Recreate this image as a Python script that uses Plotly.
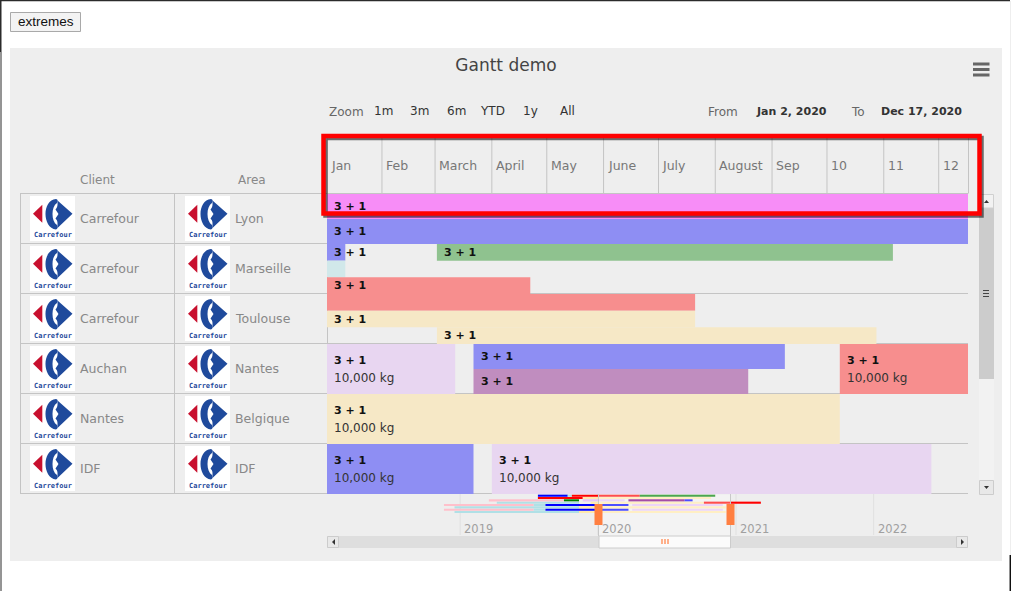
import pandas as pd
import plotly.graph_objs as go

W, H = 1011, 591

clients = ['Carrefour', 'Carrefour', 'Carrefour', 'Auchan', 'Nantes', 'IDF']
areas = ['Lyon', 'Marseille', 'Toulouse', 'Nantes', 'Belgique', 'IDF']

# main gantt tasks
task_row = [0, 0, 1, 1, 1, 1, 2, 2, 2, 3, 3, 3, 3, 4, 5, 5]
task_lane = [0, 1, 0, 0, 1, 2, 0, 1, 2, 0, 0, 1, 0, 0, 0, 0]
task_lanes = [2, 2, 3, 3, 3, 3, 3, 3, 3, 1, 2, 2, 1, 1, 1, 1]
task_kind = ['magenta', 'blue', 'blue', 'green', 'teal', 'red', 'red', 'cream', 'cream',
             'lilac', 'blue', 'purple', 'red', 'cream', 'blue', 'lilac']
task_start = ['2020-01-02', '2020-01-02', '2020-01-02', '2020-03-02', '2020-01-02', '2020-01-02',
              '2020-01-02', '2020-01-02', '2020-03-02', '2020-01-02', '2020-03-22', '2020-03-22',
              '2020-10-08', '2020-01-02', '2020-01-02', '2020-04-01']
task_end = ['2020-12-17', '2020-12-17', '2020-01-12', '2020-11-06', '2020-01-12', '2020-04-22',
            '2020-07-21', '2020-07-21', '2020-10-28', '2020-03-12', '2020-09-08', '2020-08-19',
            '2021-03-08', '2020-10-08', '2020-03-22', '2020-11-27']
task_count = ['3 + 1', '3 + 1', '3 + 1', '3 + 1', '', '3 + 1', '', '3 + 1', '3 + 1',
              '3 + 1', '3 + 1', '3 + 1', '3 + 1', '3 + 1', '3 + 1', '3 + 1']
task_weight = ['', '', '', '', '', '', '', '', '',
               '10,000 kg', '', '', '10,000 kg', '10,000 kg', '10,000 kg', '10,000 kg']

# navigator (whole data range)
nav_lane = [0, 0, 0, 0, 1, 1, 2, 2, 2, 2, 2, 3, 3, 3, 3, 4, 4, 4, 4, 5, 5, 6, 6, 6, 6, 7, 7]
nav_kind = ['blue', 'teal', 'red', 'green', 'red', 'cream', 'pink', 'green', 'lilac', 'purple', 'blue',
            'teal', 'cream', 'red', 'red', 'pink', 'teal', 'blue', 'lilac', 'teal', 'cream',
            'pink', 'teal', 'blue', 'lilac', 'teal', 'cream']
nav_start = ['2019-07-26', '2019-10-13', '2019-10-24', '2020-04-21', '2019-07-26', '2019-11-22',
             '2019-03-18', '2019-10-03', '2019-11-22', '2020-03-22', '2020-08-18',
             '2019-04-08', '2019-12-13', '2020-10-08', '2020-12-17',
             '2018-11-19', '2019-07-15', '2019-08-15', '2020-04-01',
             '2018-12-17', '2019-11-12',
             '2018-11-19', '2019-07-15', '2019-08-15', '2020-04-01',
             '2018-12-17', '2019-11-12']
nav_end = ['2019-10-13', '2019-10-24', '2020-04-21', '2020-11-07', '2019-11-22', '2020-10-27',
           '2019-10-03', '2019-11-12', '2020-03-12', '2020-08-18', '2020-09-08',
           '2019-11-12', '2020-10-08', '2020-12-17', '2021-03-08',
           '2019-07-15', '2019-08-15', '2020-03-22', '2020-11-27',
           '2019-11-12', '2020-12-05',
           '2019-07-15', '2019-08-15', '2020-03-22', '2020-11-27',
           '2019-11-12', '2020-12-05']

month_labels = ['Jan', 'Feb', 'March', 'April', 'May', 'June', 'July', 'August', 'Sep', '10', '11', '12']
month_starts = ['2020-01-02', '2020-02-01', '2020-03-01', '2020-04-01', '2020-05-01', '2020-06-01',
                '2020-07-01', '2020-08-01', '2020-09-01', '2020-10-01', '2020-11-01', '2020-12-01']
year_labels = ['2019', '2020', '2021', '2022']
year_starts = ['2019-01-01', '2020-01-01', '2021-01-01', '2022-01-01']
zoom_buttons = ['1m', '3m', '6m', 'YTD', '1y', 'All']

main_colors = {'magenta': '#f78df7', 'blue': '#8e8ef3', 'green': '#8fc28f', 'teal': '#d1e8ea',
               'red': '#f78e8e', 'cream': '#f6e8c6', 'lilac': '#e8d6f1', 'purple': '#c08dbf'}
nav_colors = {'blue': '#0000ff', 'teal': '#b0e0e6', 'red': '#ff0000', 'green': '#008000',
              'cream': '#ffe9ab', 'pink': '#ffc0cb', 'lilac': '#e6c3f5', 'purple': '#800080'}

FONT = 'DejaVu Sans'


def px(x):
    return x / W


def py(y):
    return 1 - y / H


def ms_between(starts, ends):
    return [(pd.Timestamp(e) - pd.Timestamp(s)).total_seconds() * 1000 for s, e in zip(starts, ends)]


def rect(x0, y0, x1, y1, fill, line=None, width=1, layer='below'):
    return dict(type='rect', xref='paper', yref='paper', x0=px(x0), x1=px(x1), y0=py(y0), y1=py(y1),
                fillcolor=fill, line=dict(color=line, width=width if line else 0), layer=layer)


def hline(x0, x1, y, color='#c4c4c4', width=1, layer='below'):
    return dict(type='line', xref='paper', yref='paper', x0=px(x0), x1=px(x1), y0=py(y), y1=py(y),
                line=dict(color=color, width=width), layer=layer)


def vline(x, y0, y1, color='#c4c4c4', width=1, layer='below'):
    return dict(type='line', xref='paper', yref='paper', x0=px(x), x1=px(x), y0=py(y0), y1=py(y1),
                line=dict(color=color, width=width), layer=layer)


def label(x, y, text, size=12, color='#666666', anchor='left', family=FONT):
    return dict(xref='paper', yref='paper', x=px(x), y=py(y), text=text, showarrow=False, xanchor=anchor,
                yanchor='middle', borderpad=0, font=dict(family=family, size=size, color=color))


def logo_path(ox, oy, points):
    out = []
    for cmd, coords in points:
        vals = []
        for cx, cy in coords:
            vals.append('%.5f,%.5f' % (px(ox + cx), py(oy + cy)))
        out.append(cmd + ' ' + ' '.join(vals))
    return ' '.join(out) + ' Z'


LOGO_RED = [('M', [(12.3, 8.7)]), ('L', [(12.3, 26.7)]), ('L', [(3, 17.7)])]
LOGO_C = [('M', [(26, 3)]), ('C', [(19, 3.5), (15.5, 11), (15.5, 18)]), ('C', [(15.5, 25), (19, 33), (26, 33.5)]),
          ('C', [(28, 33), (28, 30.5), (27, 29)]), ('C', [(24, 27), (22.5, 23), (22.5, 18)]),
          ('C', [(22.5, 13), (24, 9), (27, 7)]), ('C', [(28, 5.5), (28, 3.5), (26, 3)])]
LOGO_ARROW = [('M', [(27.5, 4.5)]), ('L', [(42.5, 17.7)]), ('L', [(27.5, 32)]),
              ('C', [(27.5, 27), (28, 25), (25.5, 22.5)]), ('L', [(28.5, 18)]), ('L', [(25.5, 13.5)]),
              ('C', [(28, 11), (27.5, 8.5), (27.5, 4.5)])]


shapes = []
annotations = []

# page frame and chart background
shapes.append(hline(0, 1010, 0.5, '#2b2b2b', 1.5))
shapes.append(vline(0.5, 0, 52, '#2b2b2b', 2))
shapes.append(vline(1, 52, H, '#2b2b2b', 1))
shapes.append(vline(1010.5, 1, 555, '#eeeeee', 1))
shapes.append(vline(1010.3, 555, H, '#111111', 1.5))
shapes.append(rect(10, 48, 1002, 561, '#eeeeee'))

# button
shapes.append(rect(10.5, 12.5, 80.5, 31.5, '#f3f3f3', '#a9a9a9'))
annotations.append(label(45.5, 21.5, 'extremes', 13.5, '#111111', 'center', 'Liberation Sans'))

# hamburger
for y in [64, 69.5, 75]:
    shapes.append(hline(973, 989.5, y, '#666666', 3))

# range selector
annotations.append(label(328, 112, 'Zoom', 12, '#666666'))
for name, x in zip(zoom_buttons, [383, 419, 456, 492, 530, 567]):
    annotations.append(label(x, 111, name, 12, '#333333', 'center'))
annotations.append(label(707, 111.5, 'From', 12, '#666666'))
annotations.append(label(755, 111, '<b>Jan 2, 2020</b>', 11, '#333333'))
annotations.append(label(850, 111.5, 'To', 12, '#666666'))
annotations.append(label(880, 111, '<b>Dec 17, 2020</b>', 11, '#333333'))

# header cells
annotations.append(label(97.5, 180, 'Client', 12, '#888888', 'center'))
annotations.append(label(252, 180, 'Area', 12, '#888888', 'center'))
for d in month_starts:
    shapes.append(dict(type='line', xref='x', yref='paper', x0=d, x1=d, y0=py(135), y1=py(193.5),
                       line=dict(color='#c4c4c4', width=1), layer='below'))
shapes.append(vline(968.5, 135, 193.5))
for name, d in zip(month_labels, month_starts):
    annotations.append(dict(xref='x', yref='paper', x=d, y=py(165), xshift=3, text=name, showarrow=False,
                            xanchor='left', yanchor='middle', borderpad=0,
                            font=dict(family=FONT, size=12.5, color='#777777')))

# table on the left
for i in range(7):
    y = 193.5 + 50 * i
    shapes.append(hline(20, 968, y))
for x in [20.5, 174.5, 327.5]:
    shapes.append(vline(x, 193.5, 494))
for i, (client, area) in enumerate(zip(clients, areas)):
    y = 218.5 + 50 * i
    annotations.append(label(79, y, client, 12.5, '#888888'))
    annotations.append(label(234, y, area, 12.5, '#888888'))
    for ox in [30, 185]:
        oy = 196 + 50 * i
        shapes.append(rect(ox, oy, ox + 45, oy + 45, '#ffffff'))
        shapes.append(dict(type='path', xref='paper', yref='paper', path=logo_path(ox, oy, LOGO_RED),
                           fillcolor='#c8102e', line=dict(width=0), layer='below'))
        for part in [LOGO_C, LOGO_ARROW]:
            shapes.append(dict(type='path', xref='paper', yref='paper', path=logo_path(ox, oy, part),
                               fillcolor='#1f4a9c', line=dict(width=0), layer='below'))
        annotations.append(label(ox + 22.5, oy + 39.5, '<b>Carrefour</b>', 7, '#1f4a9c', 'center', 'DejaVu Sans Mono'))

# labels on the tasks
for r, lane, lanes, start, count, weight in zip(task_row, task_lane, task_lanes, task_start, task_count, task_weight):
    yc = r + (lane + 0.5) / lanes
    if count:
        annotations.append(dict(xref='x', yref='y', x=start, y=yc, xshift=6, yshift=9 if weight else 0,
                                text='<b>%s</b>' % count, showarrow=False, xanchor='left', yanchor='middle',
                                borderpad=0, font=dict(family=FONT, size=11, color='#111111')))
    if weight:
        annotations.append(dict(xref='x', yref='y', x=start, y=yc, xshift=6, yshift=-9,
                                text=weight, showarrow=False, xanchor='left', yanchor='middle',
                                borderpad=0, font=dict(family=FONT, size=12, color='#333333')))

# navigator furniture
for d in year_starts:
    shapes.append(dict(type='line', xref='x2', yref='paper', x0=d, x1=d, y0=py(494), y1=py(535),
                       line=dict(color='#e0e0e0', width=1), layer='below'))
for name, d in zip(year_labels, year_starts):
    annotations.append(dict(xref='x2', yref='paper', x=d, y=py(528.5), xshift=3, text=name, showarrow=False,
                            xanchor='left', yanchor='middle', borderpad=0,
                            font=dict(family=FONT, size=11.5, color='#a0a0a0')))
shapes.append(rect(598.5, 494.5, 730.5, 536, 'rgba(255,255,255,0.3)', layer='above'))
shapes.append(vline(598.5, 494, 548, '#c8c8c8', 1, 'above'))
shapes.append(vline(730.5, 494, 548, '#c8c8c8', 1, 'above'))
shapes.append(rect(594.5, 504, 602.5, 525, '#ff7f41', layer='above'))
shapes.append(rect(726.5, 504, 734.5, 525, '#ff7f41', layer='above'))

# horizontal scrollbar
shapes.append(rect(327, 536, 968, 548, '#dedede', layer='above'))
shapes.append(rect(599, 536, 730.5, 548, '#fbfbfb', '#cccccc', layer='above'))
shapes.append(rect(327.5, 536.5, 338.5, 547.5, '#e8e8e8', '#cccccc', layer='above'))
shapes.append(rect(956.5, 536.5, 967.5, 547.5, '#e8e8e8', '#cccccc', layer='above'))
shapes.append(dict(type='path', xref='paper', yref='paper', line=dict(width=0), fillcolor='#333333', layer='above',
                   path='M %.5f,%.5f L %.5f,%.5f L %.5f,%.5f Z' % (px(335), py(539), px(335), py(545), px(332), py(542))))
shapes.append(dict(type='path', xref='paper', yref='paper', line=dict(width=0), fillcolor='#333333', layer='above',
                   path='M %.5f,%.5f L %.5f,%.5f L %.5f,%.5f Z' % (px(961), py(539), px(961), py(545), px(964), py(542))))
for x in [662, 665, 668]:
    shapes.append(vline(x, 539, 544, '#ffb08a', 2, 'above'))

# vertical scrollbar
shapes.append(rect(979, 194, 994, 495, '#f2f2f2'))
shapes.append(rect(979, 208, 994, 379, '#cccccc'))
shapes.append(rect(979.5, 194.5, 993.5, 208, '#f2f2f2', '#d0d0d0'))
shapes.append(rect(979.5, 480.5, 993.5, 494.5, '#e8e8e8', '#cccccc'))
shapes.append(dict(type='path', xref='paper', yref='paper', line=dict(width=0), fillcolor='#333333',
                   path='M %.5f,%.5f L %.5f,%.5f L %.5f,%.5f Z' % (px(984), py(203), px(989), py(203), px(986.5), py(200))))
shapes.append(dict(type='path', xref='paper', yref='paper', line=dict(width=0), fillcolor='#333333',
                   path='M %.5f,%.5f L %.5f,%.5f L %.5f,%.5f Z' % (px(984), py(486), px(989), py(486), px(986.5), py(489))))
for y in [290.5, 293.5, 296.5]:
    shapes.append(hline(983, 989, y, '#444444', 1))

# red highlight box from the screenshot
shapes.append(rect(325.5, 138, 981.5, 215.5, 'rgba(0,0,0,0)', 'rgba(0,0,0,0.55)', 4.5, 'above'))
shapes.append(rect(323.5, 136, 979.5, 213.5, 'rgba(0,0,0,0)', '#ff0000', 4.5, 'above'))

traces = [
    go.Bar(
        base=task_start,
        x=ms_between(task_start, task_end),
        y=[r + (l + 0.5) / n for r, l, n in zip(task_row, task_lane, task_lanes)],
        width=[1 / n for n in task_lanes],
        orientation='h',
        marker=dict(color=[main_colors[k] for k in task_kind], line=dict(width=0)),
        xaxis='x',
        yaxis='y',
        hoverinfo='skip',
    ),
    go.Bar(
        base=nav_start,
        x=ms_between(nav_start, nav_end),
        y=nav_lane,
        width=0.9,
        orientation='h',
        marker=dict(color=[nav_colors[k] for k in nav_kind], line=dict(width=0)),
        xaxis='x2',
        yaxis='y2',
        hoverinfo='skip',
    ),
]

layout = go.Layout(
    width=W,
    height=H,
    margin=dict(l=0, r=0, t=0, b=0),
    autosize=False,
    paper_bgcolor='#ffffff',
    plot_bgcolor='rgba(0,0,0,0)',
    showlegend=False,
    barmode='overlay',
    title=dict(text='Gantt demo', x=506 / W, y=py(65.5), xanchor='center', yanchor='middle', xref='paper', yref='paper',
               font=dict(family=FONT, size=17, color='#444444')),
    xaxis=dict(type='date', domain=[px(327), px(968)], range=['2020-01-02', '2020-12-17'], visible=False, anchor='y'),
    yaxis=dict(domain=[py(494), py(194)], range=[6, 0], visible=False, anchor='x'),
    xaxis2=dict(type='date', domain=[px(327), px(968)], range=['2018-01-13', '2022-09-08'], visible=False, anchor='y2'),
    yaxis2=dict(domain=[py(535), py(494)], range=[16.87, -0.73], visible=False, anchor='x2'),
    shapes=shapes,
    annotations=annotations,
)

fig = go.Figure(data=traces, layout=layout)
# page has a default 8px body margin, drop it so the figure sits at the window corner
fig.write_html("out.html", config={'displayModeBar': False}, post_script="document.body.style.margin='0';")
